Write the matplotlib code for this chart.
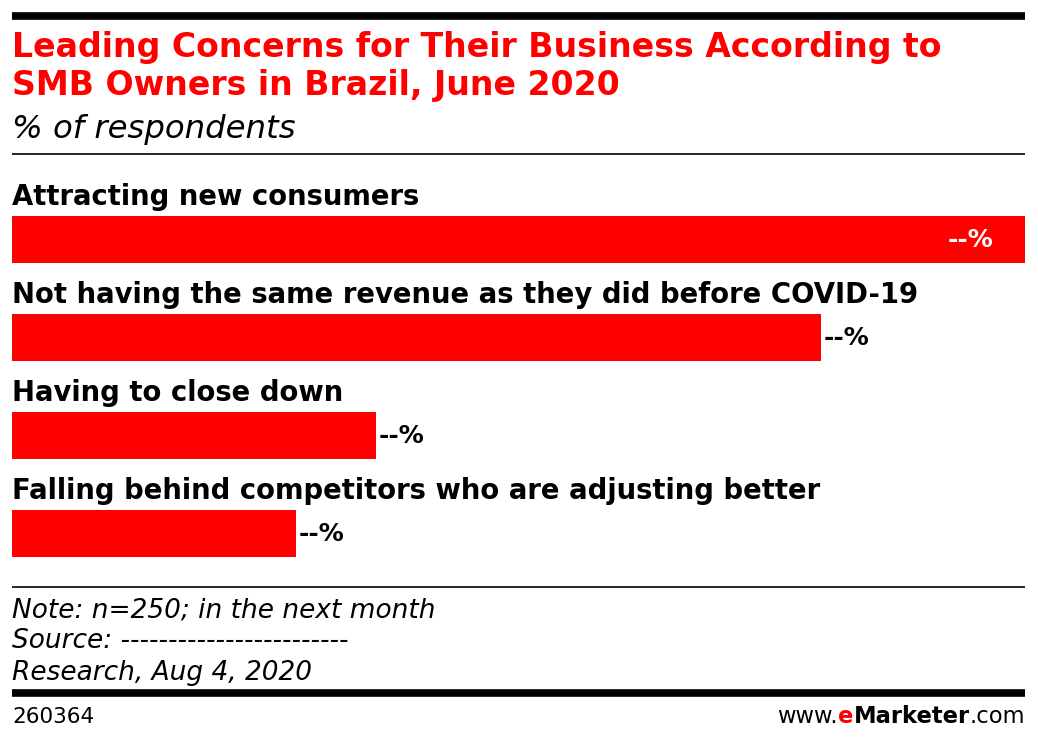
import matplotlib.pyplot as plt
from matplotlib.lines import Line2D

categories = ["Attracting new consumers",
              "Not having the same revenue as they did before COVID-19",
              "Having to close down",
              "Falling behind competitors who are adjusting better"]
values = [57.0, 45.5, 20.5, 16.0]
value_labels = ["--%", "--%", "--%", "--%"]

RED = "#ff0000"
W, H = 1038, 741

fig = plt.figure(figsize=(W / 100, H / 100), dpi=100)
fig.patch.set_facecolor("white")

def px(x, y):
    # pixel coords (top-left origin) -> figure fraction
    return x / W, 1 - y / H

def hline(y, lw):
    x0, yy = px(12, y)
    x1, _ = px(1025, y)
    fig.add_artist(Line2D([x0, x1], [yy, yy], color="black", lw=lw, solid_capstyle="butt"))

hline(15.5, 5.5)
hline(154, 1.2)
hline(587, 1.2)
hline(693, 5.5)

fig.text(*px(12, 57), "Leading Concerns for Their Business According to",
         color=RED, fontsize=23.9, fontweight="bold", va="baseline")
fig.text(*px(12, 95), "SMB Owners in Brazil, June 2020",
         color=RED, fontsize=23.9, fontweight="bold", va="baseline")
fig.text(*px(12, 138), "% of respondents", fontsize=23.3, style="italic", va="baseline")

# bars
top, bottom = 170, 560
ax = fig.add_axes([12 / W, 1 - bottom / H, (1025 - 12) / W, (bottom - top) / H])
ytop = -0.24 - (216 - top) / 98
ax.set_ylim(ytop + (bottom - top) / 98, ytop)
ax.set_xlim(0, max(values))
ypos = list(range(len(categories)))
ax.barh(ypos, values, height=0.48, color=RED)
for i, (cat, v, lab) in enumerate(zip(categories, values, value_labels)):
    ax.text(0, i - 0.355, cat, fontsize=19.8, fontweight="bold", va="baseline", ha="left")
    if i == 0:
        ax.text(v - 1.8, i, lab, color="white", fontsize=18, fontweight="bold",
                va="center", ha="right")
    else:
        ax.text(v + 0.15, i, lab, color="black", fontsize=18, fontweight="bold",
                va="center", ha="left")
ax.axis("off")

foot = ["Note: n=250; in the next month",
        "Source: ------------------------",
        "Research, Aug 4, 2020"]
for k, line in enumerate(foot):
    fig.text(*px(12, 617 + k * 31.5), line, fontsize=19, style="italic", va="baseline")

fig.text(*px(12, 723), "260364", fontsize=15.6, va="baseline")
t1 = fig.text(*px(1025, 723), ".com", fontsize=16.3, va="baseline", ha="right")
fig.canvas.draw()
r = fig.canvas.get_renderer()
bb = t1.get_window_extent(r)
t2 = fig.text(bb.x0 / W, 1 - 723 / H, "Marketer", fontsize=16.3, va="baseline", ha="right",
              fontweight="bold")
bb = t2.get_window_extent(r)
t3 = fig.text(bb.x0 / W, 1 - 723 / H, "e", fontsize=16.3, va="baseline", ha="right",
              fontweight="bold", color=RED)
bb = t3.get_window_extent(r)
fig.text(bb.x0 / W, 1 - 723 / H, "www.", fontsize=16.3, va="baseline", ha="right")

fig.savefig("out.png", dpi=100, facecolor="white")
